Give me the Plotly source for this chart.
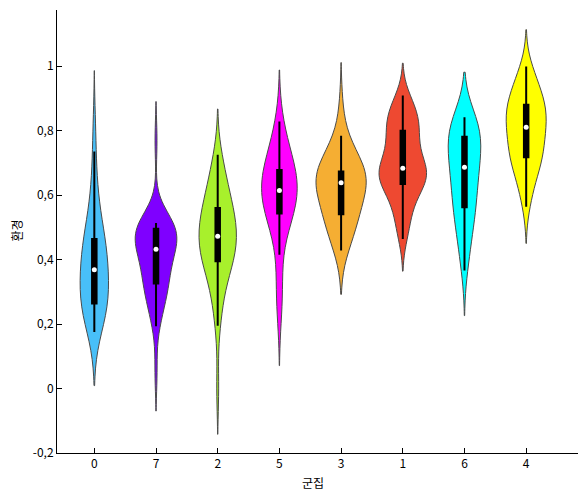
import plotly.graph_objects as go
import numpy as np

categories = ["0", "7", "2", "5", "3", "1", "6", "4"]

cluster_0 = [0.175, 0.19, 0.205, 0.218, 0.23, 0.238, 0.245, 0.251, 0.256, 0.261, 0.265,
             0.275, 0.285, 0.295, 0.305, 0.315, 0.325, 0.336, 0.346, 0.357, 0.368,
             0.377, 0.386, 0.395, 0.404, 0.414, 0.424, 0.434, 0.444, 0.453, 0.462,
             0.47, 0.485, 0.50, 0.52, 0.545, 0.575, 0.61, 0.66, 0.735, 0.82]
cluster_7 = [0.05, 0.193, 0.22, 0.245, 0.265, 0.28, 0.293, 0.304, 0.313, 0.321, 0.327,
             0.338, 0.35, 0.362, 0.374, 0.386, 0.397, 0.407, 0.416, 0.424, 0.432,
             0.439, 0.446, 0.452, 0.458, 0.464, 0.47, 0.476, 0.482, 0.488, 0.494,
             0.499, 0.501, 0.503, 0.505, 0.507, 0.509, 0.511, 0.512, 0.513, 0.77]
cluster_2 = [0.0, 0.195, 0.24, 0.275, 0.305, 0.33, 0.35, 0.366, 0.378, 0.389, 0.397,
             0.405, 0.413, 0.421, 0.429, 0.437, 0.445, 0.452, 0.459, 0.466, 0.472,
             0.48, 0.488, 0.497, 0.506, 0.515, 0.524, 0.533, 0.542, 0.55, 0.558,
             0.566, 0.577, 0.59, 0.605, 0.62, 0.637, 0.655, 0.675, 0.698, 0.725]
cluster_5 = [0.231, 0.27, 0.31, 0.335, 0.415, 0.47, 0.50, 0.518, 0.53, 0.538, 0.544,
             0.551, 0.558, 0.565, 0.572, 0.579, 0.586, 0.593, 0.60, 0.607, 0.614,
             0.62, 0.626, 0.632, 0.639, 0.646, 0.653, 0.66, 0.666, 0.672, 0.677,
             0.681, 0.69, 0.70, 0.712, 0.726, 0.742, 0.76, 0.78, 0.803, 0.828]
cluster_3 = [0.428, 0.445, 0.46, 0.474, 0.487, 0.499, 0.51, 0.52, 0.529, 0.536, 0.542,
             0.552, 0.563, 0.574, 0.585, 0.596, 0.606, 0.615, 0.623, 0.631, 0.638,
             0.642, 0.646, 0.65, 0.654, 0.658, 0.661, 0.664, 0.667, 0.67, 0.672,
             0.676, 0.684, 0.694, 0.705, 0.718, 0.732, 0.748, 0.765, 0.784, 0.875]
cluster_1 = [0.464, 0.49, 0.515, 0.538, 0.558, 0.576, 0.592, 0.606, 0.618, 0.628, 0.636,
             0.642, 0.648, 0.653, 0.658, 0.663, 0.668, 0.672, 0.676, 0.68, 0.683,
             0.692, 0.702, 0.713, 0.725, 0.738, 0.75, 0.762, 0.774, 0.786, 0.797,
             0.808, 0.816, 0.824, 0.833, 0.843, 0.853, 0.864, 0.876, 0.891, 0.909]
cluster_6 = [0.366, 0.40, 0.43, 0.455, 0.477, 0.497, 0.515, 0.531, 0.545, 0.556, 0.564,
             0.576, 0.589, 0.602, 0.615, 0.628, 0.641, 0.653, 0.664, 0.675, 0.686,
             0.696, 0.705, 0.714, 0.723, 0.732, 0.741, 0.75, 0.759, 0.768, 0.778,
             0.79, 0.797, 0.804, 0.81, 0.816, 0.822, 0.828, 0.833, 0.837, 0.841]
cluster_4 = [0.564, 0.595, 0.62, 0.642, 0.66, 0.675, 0.688, 0.699, 0.708, 0.714, 0.718,
             0.727, 0.736, 0.745, 0.755, 0.765, 0.775, 0.784, 0.793, 0.802, 0.81,
             0.818, 0.826, 0.833, 0.84, 0.847, 0.854, 0.861, 0.867, 0.873, 0.878,
             0.886, 0.895, 0.905, 0.915, 0.926, 0.938, 0.95, 0.963, 0.979, 0.999]

series = [cluster_0, cluster_7, cluster_2, cluster_5, cluster_3, cluster_1, cluster_6, cluster_4]
bandwidths = [0.083, 0.06, 0.071, 0.08, 0.068, 0.05, 0.07, 0.057]

y_tick_vals = [-0.2, 0, 0.2, 0.4, 0.6, 0.8, 1]
y_tick_text = ["-0,2", "0", "0,2", "0,4", "0,6", "0,8", "1"]
x_title = "군집"
y_title = "환경"

# styles
fill_colors = ["#48bff8", "#7f00ff", "#a8f02c", "#ff00ff", "#f5ae33", "#ee4931", "#00ffff", "#ffff00"]
violin_widths = [0.46, 0.674, 0.606, 0.577, 0.81, 0.768, 0.528, 0.648]
px_per_unit = 61.7
box_px = 4.5
font = "Noto Sans CJK KR"

fig = go.Figure()
for cat, vals, bw, col, w in zip(categories, series, bandwidths, fill_colors, violin_widths):
    fig.add_trace(go.Violin(
        x=[cat] * len(vals), y=vals, name=cat,
        bandwidth=bw, spanmode="soft",
        width=w, scalemode="width", scalegroup="g" + cat,
        fillcolor=col, opacity=1,
        line=dict(color="#4a4a4a", width=1),
        points=False,
        box=dict(visible=True, width=box_px / (w * px_per_unit), fillcolor="black",
                 line=dict(color="black", width=2)),
        meanline=dict(visible=False),
        hoverinfo="skip", showlegend=False,
    ))

fig.add_trace(go.Scatter(
    x=categories, y=[float(np.median(v)) for v in series],
    mode="markers", marker=dict(color="white", size=5, line=dict(width=0)),
    showlegend=False, hoverinfo="skip",
))

# page body adds an 8px offset, so the figure is sized to compensate
fig.update_layout(
    width=580, height=493,
    margin=dict(l=49, r=10, t=2, b=48),
    paper_bgcolor="white", plot_bgcolor="white",
    violinmode="overlay",
    font=dict(family=font, size=12, color="black"),
    showlegend=False,
    annotations=[
        dict(text=x_title, xref="paper", yref="paper", x=0.4914, y=-0.0655,
             xanchor="center", yanchor="middle", showarrow=False, font=dict(size=12)),
        dict(text=y_title, xref="paper", yref="paper", x=-0.0768, y=0.502,
             xanchor="center", yanchor="middle", showarrow=False, textangle=-90,
             font=dict(size=12)),
    ],
)
fig.update_xaxes(
    type="category", categoryorder="array", categoryarray=categories,
    range=[-0.605, 7.84], automargin=False,
    showline=True, linecolor="black", linewidth=1, mirror=False,
    showgrid=False, zeroline=False,
    ticks="inside", ticklen=5, tickcolor="black", tickwidth=1,
)
fig.update_yaxes(
    range=[-0.2, 1.174], automargin=False,
    tickvals=y_tick_vals, ticktext=y_tick_text,
    showline=True, linecolor="black", linewidth=1, mirror=False,
    showgrid=False, zeroline=False,
    ticks="inside", ticklen=5, tickcolor="black", tickwidth=1,
)

fig.write_html("out.html")
